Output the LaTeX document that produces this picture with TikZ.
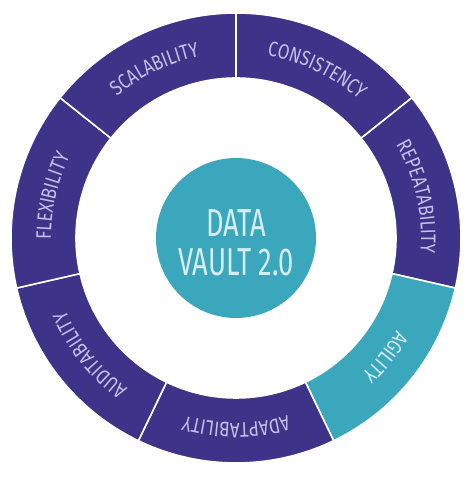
\documentclass[tikz,border=0pt]{standalone}
\usepackage{fontspec}
\usepackage{xcolor}
\usepackage{tikz}
\usetikzlibrary{decorations.text}
\newfontfamily\ringfont{Fira Sans}[FakeStretch=0.8,LetterSpace=5]
\newfontfamily\hubfont{Fira Sans}[FakeStretch=0.7]
\definecolor{violet}{RGB}{61,51,137}
\definecolor{lagoon}{RGB}{59,167,189}
\definecolor{lilac}{RGB}{196,192,232}
\definecolor{mist}{RGB}{214,238,243}

\begin{document}
\begin{tikzpicture}[x=1pt,y=1pt,
 seg/.style={fill=violet,draw=white,line width=1.6pt},
 hot/.style={seg,fill=lagoon},
 lbl/.style={decorate,decoration={text along path,text align=center,text color=lilac,
   text={|\ringfont\fontsize{21}{21}\selectfont|#1}}},
 hotlbl/.style={decorate,decoration={text along path,text align=center,text color=mist,
   text={|\ringfont\fontsize{21}{21}\selectfont|#1}}},
 hub/.style={circle,fill=lagoon,minimum size=160pt,inner sep=0pt},
 hubtxt/.style={anchor=base,text=mist,font=\hubfont\fontsize{39}{39}\selectfont,inner sep=0pt}]
 \useasboundingbox (-236,-243) rectangle (238,238);
 % ring segments, clockwise from the top
 \draw[seg](90:160) arc[start angle=90,end angle=38.571,radius=160] -- (38.571:225) arc[start angle=38.571,end angle=90,radius=225] -- cycle;
 \draw[seg](38.571:160) arc[start angle=38.571,end angle=-12.857,radius=160] -- (-12.857:225) arc[start angle=-12.857,end angle=38.571,radius=225] -- cycle;
 \draw[hot](-12.857:160) arc[start angle=-12.857,end angle=-64.286,radius=160] -- (-64.286:225) arc[start angle=-64.286,end angle=-12.857,radius=225] -- cycle;
 \draw[seg](-64.286:160) arc[start angle=-64.286,end angle=-115.714,radius=160] -- (-115.714:225) arc[start angle=-115.714,end angle=-64.286,radius=225] -- cycle;
 \draw[seg](-115.714:160) arc[start angle=-115.714,end angle=-167.143,radius=160] -- (-167.143:225) arc[start angle=-167.143,end angle=-115.714,radius=225] -- cycle;
 \draw[seg](-167.143:160) arc[start angle=-167.143,end angle=-218.571,radius=160] -- (-218.571:225) arc[start angle=-218.571,end angle=-167.143,radius=225] -- cycle;
 \draw[seg](141.429:160) arc[start angle=141.429,end angle=90,radius=160] -- (90:225) arc[start angle=90,end angle=141.429,radius=225] -- cycle;
 % labels along the ring
 \path[lbl={CONSISTENCY}](90:185) arc[start angle=90,end angle=38.571,radius=185];
 \path[lbl={REPEATABILITY}](38.571:185) arc[start angle=38.571,end angle=-12.857,radius=185];
 \path[hotlbl={AGILITY}](-12.857:185) arc[start angle=-12.857,end angle=-64.286,radius=185];
 \path[lbl={ADAPTABILITY}](-64.286:185) arc[start angle=-64.286,end angle=-115.714,radius=185];
 \path[lbl={AUDITABILITY}](-115.714:185) arc[start angle=-115.714,end angle=-167.143,radius=185];
 \path[lbl={FLEXIBILITY}](-167.143:185) arc[start angle=-167.143,end angle=-218.571,radius=185];
 \path[lbl={SCALABILITY}](141.429:185) arc[start angle=141.429,end angle=90,radius=185];
 % centre
 \node[hub](hub) at (0,0){};
 \node[hubtxt](data) at (0,1){DATA};
 \node[hubtxt](vault) at (0,-38){VAULT 2.0};
\end{tikzpicture}
\end{document}
